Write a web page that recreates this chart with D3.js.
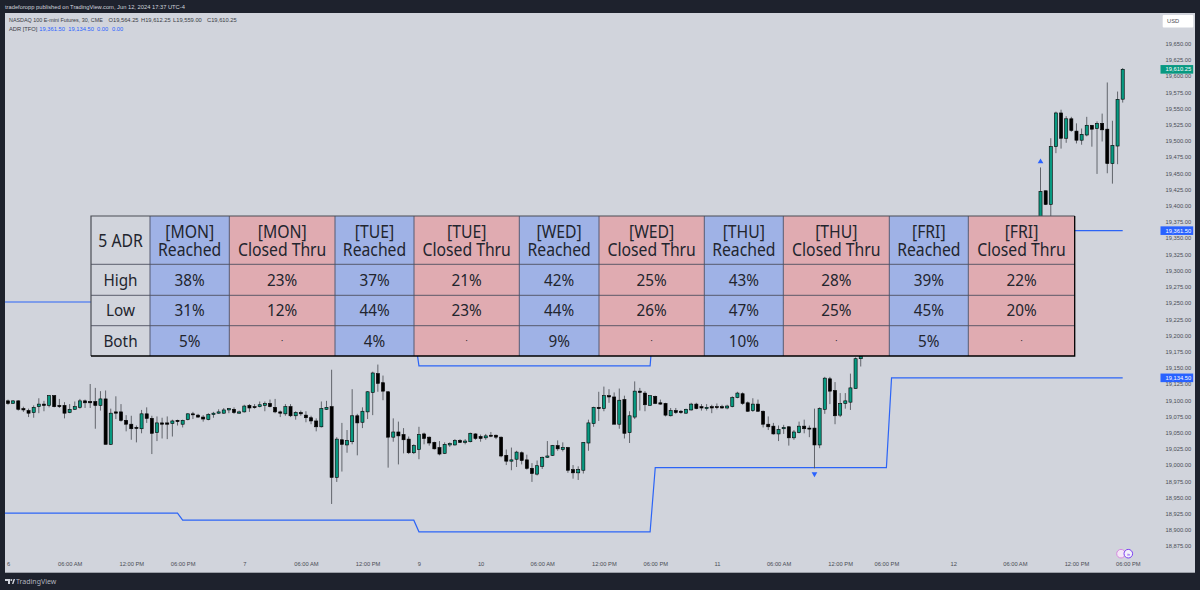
<!DOCTYPE html>
<html>
<head>
<meta charset="utf-8">
<title>NQ 5 ADR</title>
<script src="https://cdn.jsdelivr.net/npm/d3@7"></script>
<style>
  html, body { margin: 0; padding: 0; background: #1e222d; }
  svg { display: block; }
</style>
</head>
<body>
<div id="chart"></div>
<script>
// 30 minute candles: [open, high, low, close]
var barsA = [
  [19099,19101,19093,19095],[19095,19100,19095,19099],[19099,19100,19084,19086],[19087,19090,19082,19085],
  [19084,19087,19074,19080],[19081,19092,19073,19089],[19090,19103,19080,19094],[19094,19099,19083,19092],
  [19092,19108,19089,19107],[19107,19108,19089,19090],[19092,19102,19088,19090],[19092,19097,19072,19080],
  [19081,19094,19080,19086],[19086,19098,19085,19090],[19089,19102,19087,19099],[19099,19101,19088,19096],
  [19098,19125,19088,19096],[19098,19119,19056,19092],[19092,19114,19084,19102],[19102,19115,19032,19032],
  [19032,19087,19031,19080],[19082,19106,19071,19080],[19082,19094,19067,19069],[19069,19077,19052,19063],
  [19063,19076,19039,19056],[19058,19061,19035,19057],[19056,19085,19049,19079],[19079,19089,19065,19072],
  [19072,19076,19017,19049],[19050,19075,19037,19065],[19065,19073,19041,19063],[19065,19075,19040,19063],
  [19064,19070,19044,19068],[19069,19070,19061,19067],[19063,19070,19058,19069],[19070,19080,19069,19079],
  [19079,19082,19071,19078],[19077,19079,19073,19074],[19074,19077,19067,19071],[19070,19080,19069,19078],
  [19078,19082,19073,19080],[19080,19086,19079,19082],[19080,19088,19079,19085],[19085,19088,19080,19087],
  [19086,19089,19079,19081],[19080,19084,19079,19082],[19082,19093,19081,19091],[19092,19094,19082,19088],
  [19090,19094,19087,19089],[19090,19098,19089,19093],[19092,19098,19083,19095],[19095,19101,19089,19090],
  [19089,19102,19080,19082],[19082,19084,19074,19080],[19079,19094,19076,19090],[19090,19094,19074,19076],
  [19076,19083,19070,19081]
];
var barsB = [
  [19081,19084,19076,19079],[19077,19083,19066,19073],[19073,19076,19063,19068],[19068,19072,19052,19059],
  [19059,19098,19058,19087],[19086,19099,19085,19089],[19090,19147,18940,18981],[18981,19043,18974,19040],
  [19039,19065,18990,19032],[19031,19054,19019,19038],[19036,19117,19032,19076],[19076,19079,19015,19065],
  [19066,19089,19057,19083],[19082,19114,19071,19113],[19112,19144,19077,19142],[19141,19155,19113,19126],
  [19127,19138,19100,19114],[19113,19114,18996,19043],[19043,19072,19036,19051],[19051,19067,19001,19045],
  [19047,19057,19018,19039],[19040,19044,19017,19019],[19019,19032,19017,19030],[19024,19059,19009,19047],
  [19048,19050,19032,19041],[19043,19044,19030,19034],[19035,19036,19024,19025],[19027,19037,19015,19017],
  [19018,19035,19017,19032],[19031,19035,19028,19033],[19031,19040,19030,19038],[19038,19040,19034,19035],
  [19035,19040,19032,19037],[19036,19050,19035,19049],[19048,19049,19039,19041],[19044,19047,19036,19041],
  [19042,19048,19039,19045],[19046,19051,19043,19045],[19046,19047,19040,19043],[19043,19044,19012,19014],
  [19015,19024,19000,19006],[19006,19027,18992,19008],[19009,19022,18997,19020],[19019,19021,19001,19007],
  [19008,19016,18993,18995],[18995,19003,18974,18987],[18986,19007,18984,18999],[18998,19013,18994,19012],
  [19012,19037,19011,19014],[19015,19031,19014,19030],[19030,19038,19022,19025],[19024,19035,19021,19027],
  [19027,19028,18988,18992],[18993,19000,18979,18988],[18988,18998,18977,18993],[18992,19035,18987,19035],
  [19034,19070,19022,19065],[19064,19090,19059,19089],[19089,19113,19068,19087]
];
var barsC = [
  [19087,19121,19083,19107],[19107,19117,19096,19105],[19105,19112,19063,19063],[19063,19118,19056,19100],
  [19101,19107,19041,19049],[19050,19083,19034,19076],[19074,19129,19071,19114],[19114,19119,19084,19112],
  [19111,19114,19083,19093],[19092,19107,19092,19107],[19106,19107,19094,19095],[19096,19101,19093,19094],
  [19095,19096,19075,19077],[19076,19088,19075,19084],[19084,19088,19079,19081],[19083,19085,19079,19081],
  [19080,19087,19079,19086],[19085,19096,19084,19094],[19094,19096,19086,19087],[19090,19094,19084,19088],
  [19087,19094,19084,19089],[19090,19093,19080,19088],[19090,19095,19086,19089],[19090,19093,19087,19088],
  [19088,19093,19086,19091],[19090,19106,19089,19104],[19104,19113,19103,19111],[19110,19112,19093,19095],
  [19096,19098,19082,19083],[19084,19103,19082,19094],[19094,19101,19082,19083],[19083,19084,19058,19063],
  [19063,19075,19054,19059],[19060,19065,19047,19048],[19048,19061,19037,19055],[19056,19062,19048,19058],
  [19059,19060,19030,19042],[19042,19054,19039,19051],[19050,19067,19049,19060],[19060,19070,19049,19056],
  [19057,19061,19043,19056],[19057,19087,18995,19031],[19031,19089,19026,19087],[19086,19136,19079,19134],
  [19133,19136,19094,19114],[19115,19128,19063,19076],[19077,19111,19074,19095],[19095,19111,19087,19099],
  [19097,19141,19085,19119],[19118,19166,19118,19164],[19164,19170,19152,19168]
];
// the bars between these two runs sit behind the table, so they are not read
var barsD = [
  [19375,19459,19370,19422],[19423,19423,19401,19402],[19402,19504,19380,19491],[19491,19545,19481,19543],
  [19543,19548,19488,19504],[19504,19538,19497,19534],[19534,19537,19514,19516],[19515,19527,19496,19501],
  [19501,19519,19494,19510],[19509,19537,19507,19524],[19524,19524,19491,19518],[19519,19530,19449,19527],
  [19527,19542,19499,19517],[19518,19590,19450,19465],[19465,19531,19434,19493],[19492,19576,19464,19564],
  [19564.25,19612.25,19559,19610.25]
];
var barsDStart = 201;

// ADR step lines, one pair of levels per session
var adrBars = [-0.6, 33, 34, 79, 80, 125, 126, 171, 172, 217];
var adrUpper = [19251.5, 19251.5, 19208, 19208, 19153, 19153, 19250, 19250, 19361.5, 19361.5];
var adrLower = [18926, 18926, 18915, 18915, 18897, 18897, 18996, 18996, 19134.5, 19134.5];

// ADR signal triangles: bar, price
var signalUp = [201, 19467.8];
var signalDown = [157, 18986.2];

var priceTicks = [19650,19625,19600,19575,19550,19525,19500,19475,19450,19425,19400,19375,19350,19325,19300,
  19275,19250,19225,19200,19175,19150,19125,19100,19075,19050,19025,19000,18975,18950,18925,18900,18875];
var timeBars = [0,12,24,34,46,58,70,80,92,104,116,126,138,150,162,171,184,196,208,218];
var timeLabels = ['6','06:00 AM','12:00 PM','06:00 PM','7','06:00 AM','12:00 PM','9','10','06:00 AM','12:00 PM',
  '06:00 PM','11','06:00 AM','12:00 PM','06:00 PM','12','06:00 AM','12:00 PM','06:00 PM'];

// table
var tableDays = ['MON','TUE','WED','THU','FRI'];
var rowNames = ['High','Low','Both'];
var highReached = ['38%','37%','42%','43%','39%'];
var highClosed = ['23%','21%','25%','28%','22%'];
var lowReached = ['31%','44%','44%','47%','45%'];
var lowClosed = ['12%','23%','26%','25%','20%'];
var bothReached = ['5%','4%','9%','10%','5%'];
var bothClosed = ['·','·','·','·','·'];

var width = 1200, height = 590;
var pane = {left: 5, top: 13, right: 1195, bottom: 572.7};
var uiFont = '"Noto Sans", "Open Sans", sans-serif';
var smallFont = '"Liberation Sans", sans-serif';
var smallSize = '5.75px ';

var x = d3.scaleLinear().domain([0, 217]).range([8, 1122.7]);
var y = d3.scaleLinear().domain([19600, 18900]).range([76, 529.9]);

var svg = d3.select('#chart').append('svg').attr('width', width).attr('height', height);

svg.append('rect').attr('width', width).attr('height', height).attr('fill', '#1e222d');
svg.append('rect')
  .attr('x', pane.left).attr('y', pane.top)
  .attr('width', pane.right - pane.left).attr('height', pane.bottom - pane.top)
  .attr('fill', '#d1d4dc');

// adr lines
var adrLine = d3.line().x(function (d) { return x(d[0]); }).y(function (d) { return y(d[1]); });
[adrUpper, adrLower].forEach(function (levels) {
  svg.append('path')
    .attr('d', adrLine(levels.map(function (v, i) { return [adrBars[i], v]; })))
    .attr('fill', 'none').attr('stroke', '#2c64f6').attr('stroke-width', 1.2);
});

// candles
var candles = barsA.concat(barsB, barsC).map(function (b, i) { return {i: i, b: b}; })
  .concat(barsD.map(function (b, i) { return {i: barsDStart + i, b: b}; }));

svg.append('g').selectAll('line').data(candles).join('line')
  .attr('x1', function (d) { return x(d.i); }).attr('x2', function (d) { return x(d.i); })
  .attr('y1', function (d) { return y(d.b[1]); }).attr('y2', function (d) { return y(d.b[2]); })
  .attr('stroke', '#55585f').attr('stroke-width', 0.9);

var bodyWidth = 3.1;
svg.append('g').selectAll('rect').data(candles).join('rect')
  .attr('x', function (d) { return x(d.i) - bodyWidth / 2; })
  .attr('width', bodyWidth)
  .attr('y', function (d) { return Math.min(y(d.b[0]), y(d.b[3])); })
  .attr('height', function (d) { return Math.max(1, Math.abs(y(d.b[0]) - y(d.b[3]))); })
  .attr('fill', function (d) { return d.b[3] >= d.b[0] ? '#089981' : '#000000'; })
  .attr('stroke', '#000000').attr('stroke-width', 0.6);

// signal triangles
svg.append('path')
  .attr('d', d3.symbol().type(d3.symbolTriangle).size(14)())
  .attr('transform', 'translate(' + x(signalUp[0]) + ',' + y(signalUp[1]) + ')')
  .attr('fill', '#2962ff');
svg.append('path')
  .attr('d', d3.symbol().type(d3.symbolTriangle).size(14)())
  .attr('transform', 'translate(' + x(signalDown[0]) + ',' + y(signalDown[1]) + ') rotate(180)')
  .attr('fill', '#2962ff');

// price axis
var priceAxis = svg.append('g')
  .attr('transform', 'translate(1165.5,0)')
  .call(d3.axisRight(y).tickValues(priceTicks).tickFormat(d3.format(',.2f')).tickSize(0).tickPadding(0));
priceAxis.select('.domain').remove();
priceAxis.selectAll('text').attr('fill', '#4a4d55').style('font', smallSize + smallFont);

// time axis
var timeAxis = svg.append('g')
  .attr('transform', 'translate(0,562)')
  .call(d3.axisBottom(x).tickValues(timeBars)
    .tickFormat(function (d) { return timeLabels[timeBars.indexOf(d)]; }).tickSize(0).tickPadding(0));
timeAxis.select('.domain').remove();
timeAxis.selectAll('text').attr('fill', '#4a4d55').style('font', smallSize + smallFont);

// last price tags
var tags = [[19610.25, '#089981'], [19361.5, '#2962ff'], [19134.5, '#2962ff']];
var tag = svg.append('g').selectAll('g').data(tags).join('g')
  .attr('transform', function (d) { return 'translate(1160.5,' + y(d[0]) + ')'; });
tag.append('rect').attr('y', -4.3).attr('width', 32.7).attr('height', 8.6)
  .attr('fill', function (d) { return d[1]; });
tag.append('text').attr('x', 5).attr('y', 2.1)
  .attr('fill', '#ffffff').style('font', smallSize + smallFont)
  .text(function (d) { return d3.format(',.2f')(d[0]); });

// currency box
svg.append('rect').attr('x', 1162.7).attr('y', 15).attr('width', 30.6).attr('height', 12.4)
  .attr('rx', 1).attr('fill', '#ffffff');
svg.append('text').attr('x', 1167).attr('y', 23.4).attr('fill', '#4a4d55')
  .style('font', smallSize + smallFont).text('USD');

// header text
function smallText(px, py, color, str, size) {
  svg.append('text').attr('x', px).attr('y', py).attr('fill', color)
    .style('font', (size || smallSize) + smallFont).text(str);
}
smallText(5, 9, '#d1d4dc', 'tradeforopp published on TradingView.com, Jun 12, 2024 17:37 UTC-4');
smallText(9, 22, '#3a3d45', 'NASDAQ 100 E-mini Futures, 30, CME', '5.4px ');
smallText(108.5, 22, '#3a3d45', 'O19,564.25');
smallText(141, 22, '#3a3d45', 'H19,612.25');
smallText(173, 22, '#3a3d45', 'L19,559.00');
smallText(207, 22, '#3a3d45', 'C19,610.25');
smallText(9, 30.7, '#3a3d45', 'ADR [TFO]');
smallText(39.3, 30.7, '#2962ff', '19,361.50');
smallText(68.3, 30.7, '#2962ff', '19,134.50');
smallText(97, 30.7, '#2962ff', '0.00');
smallText(112, 30.7, '#2962ff', '0.00');

// footer logo
var logo = svg.append('g').attr('fill', '#d1d4dc');
logo.append('path').attr('d', 'M5 579h5v5h-2v-3h-3z');
logo.append('circle').attr('cx', 11.3).attr('cy', 580).attr('r', 1);
logo.append('path').attr('d', 'M12 584l1.6-5h1.5l-1.7 5z');
svg.append('text').attr('x', 16).attr('y', 584.4).attr('fill', '#b2b5be')
  .style('font', '7px ' + uiFont).text('TradingView');

// purple session badges
svg.append('circle').attr('cx', 1121).attr('cy', 553.7).attr('r', 4.3)
  .attr('fill', '#f3e6f6').attr('stroke', '#d78ae0').attr('stroke-width', 1);
svg.append('circle').attr('cx', 1128.3).attr('cy', 553.7).attr('r', 4.3)
  .attr('fill', '#f4f1fb').attr('stroke', '#7b3ff2').attr('stroke-width', 1);
svg.append('text').attr('x', 1128.3).attr('y', 555.6).attr('text-anchor', 'middle')
  .attr('fill', '#7b3ff2').style('font', '6px ' + smallFont).text('»');

// table
var colEdges = [91, 150, 229.3, 335, 414, 519.3, 599, 704.3, 783.3, 889.3, 968.3, 1074.7];
var rowEdges = [216, 264.3, 295.3, 325.7, 356];
var colGrey = '#d1d4dc', colBlue = '#9fb2e6', colPink = '#e0abb1', inkColor = '#22252e';

var headers = [['5 ADR']];
var rowValues = [[rowNames[0]], [rowNames[1]], [rowNames[2]]];
tableDays.forEach(function (day, i) {
  headers.push(['[' + day + ']', 'Reached'], ['[' + day + ']', 'Closed Thru']);
  rowValues[0].push(highReached[i], highClosed[i]);
  rowValues[1].push(lowReached[i], lowClosed[i]);
  rowValues[2].push(bothReached[i], bothClosed[i]);
});

var table = svg.append('g');
var fillFor = function (col) { return col === 0 ? colGrey : (col % 2 === 1 ? colBlue : colPink); };

headers.forEach(function (_, col) {
  table.append('rect')
    .attr('x', colEdges[col]).attr('y', rowEdges[0])
    .attr('width', colEdges[col + 1] - colEdges[col])
    .attr('height', rowEdges[4] - rowEdges[0])
    .attr('fill', fillFor(col));
});

colEdges.slice(1, -1).forEach(function (cx) {
  table.append('line').attr('x1', cx).attr('x2', cx).attr('y1', rowEdges[0]).attr('y2', rowEdges[4])
    .attr('stroke', '#555a72').attr('stroke-width', 1);
});
rowEdges.slice(1, -1).forEach(function (ry) {
  table.append('line').attr('x1', colEdges[0]).attr('x2', colEdges[11]).attr('y1', ry).attr('y2', ry)
    .attr('stroke', '#4d5060').attr('stroke-width', 0.9);
});
table.append('path')
  .attr('d', d3.line()([[colEdges[0], rowEdges[4]], [colEdges[0], rowEdges[0]], [colEdges[11], rowEdges[0]]]))
  .attr('fill', 'none').attr('stroke', '#4a4d55').attr('stroke-width', 1.2);
table.append('path')
  .attr('d', d3.line()([[colEdges[0], rowEdges[4]], [colEdges[11], rowEdges[4]], [colEdges[11], rowEdges[0]]]))
  .attr('fill', 'none').attr('stroke', '#000000').attr('stroke-width', 1.3);

// the reference face is narrower than Noto Sans, so squeeze it a little
var squeeze = 0.9;
function cellText(col, cy, str, size) {
  table.append('text')
    .attr('transform', 'translate(' + ((colEdges[col] + colEdges[col + 1]) / 2) + ',' + cy + ') scale(' + squeeze + ',1)')
    .attr('text-anchor', 'middle').attr('dominant-baseline', 'central')
    .attr('fill', inkColor).style('font', size + 'px ' + uiFont).text(str);
}
headers.forEach(function (lines, col) {
  if (lines.length === 1) { cellText(col, 240.5, lines[0], 17.5); return; }
  cellText(col, 231.5, lines[0], 17.5);
  cellText(col, 249, lines[1], 17.5);
});
rowValues.forEach(function (vals, r) {
  var cy = (rowEdges[r + 1] + rowEdges[r + 2]) / 2;
  vals.forEach(function (v, col) {
    if (v === '·') cellText(col, cy, v, 9);
    else cellText(col, cy - 0.5, v, 17);
  });
});
</script>
</body>
</html>
